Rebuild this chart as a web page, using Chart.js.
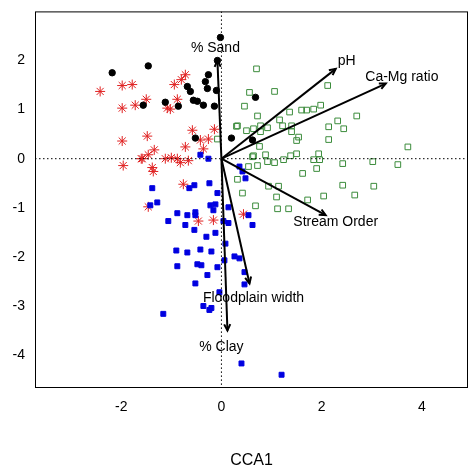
<!DOCTYPE html>
<html><head><meta charset="utf-8">
<script src="https://cdn.jsdelivr.net/npm/chart.js@4"></script>
<style>html,body{margin:0;padding:0;background:#fff}#c{display:block}</style>
</head><body>
<div style="width:474px;height:474px"><canvas id="c" width="474" height="474"></canvas></div>
<script>
const xTicks=[-2,0,2,4];
const yTicks=[-4,-3,-2,-1,0,1,2];
const groupBlack=[[-0.02,2.47],[-0.08,2.0],[-2.18,1.75],[-1.46,1.89],[-0.26,1.71],[-0.32,1.57],[-0.28,1.43],[-0.68,1.47],[-0.62,1.37],[-0.10,1.39],[-0.56,1.19],[-0.48,1.17],[-0.36,1.09],[-0.14,1.07],[-1.12,1.15],[-0.86,1.07],[-1.56,1.09],[-0.52,0.42],[0.2,0.42],[0.68,1.25],[0.62,0.38]];
const groupRed=[[-2.42,1.37],[-1.98,1.49],[-1.78,1.51],[-1.98,1.03],[-1.72,1.09],[-1.5,1.21],[-0.94,1.51],[-0.8,1.61],[-0.72,1.71],[-0.88,1.21],[-1.08,1.03],[-1.02,1.01],[-0.58,0.58],[-0.14,0.60],[-0.26,0.40],[-0.42,0.38],[-0.36,0.20],[-1.98,0.36],[-1.48,0.46],[-1.34,0.18],[-1.46,0.08],[-1.6,0],[-0.72,0.24],[-1.12,0],[-0.88,0],[-0.82,-0.08],[-0.66,-0.04],[-1.96,-0.14],[-1.38,-0.18],[-1.58,0],[-1.36,-0.26],[-1.0,0.02],[-0.76,-0.52],[-1.46,-0.98],[-0.46,-1.27],[-0.16,-1.25],[0.44,-1.13]];
const groupBlue=[[-0.42,0.08],[-0.26,0],[0.36,-0.16],[0.42,-0.26],[0.48,-0.4],[-1.38,-0.6],[-0.64,-0.6],[-0.54,-0.54],[-0.24,-0.5],[-0.08,-0.7],[-1.28,-0.89],[-1.42,-0.95],[-0.22,-0.95],[-0.12,-0.93],[-0.16,-1.05],[0.14,-0.99],[-0.88,-1.11],[-0.68,-1.15],[-0.52,-1.09],[-0.52,-1.15],[-1.06,-1.27],[-0.72,-1.35],[0.04,-1.27],[0.14,-1.31],[0.54,-1.15],[0.62,-1.35],[-0.54,-1.45],[-0.12,-1.51],[-0.3,-1.59],[0.08,-1.73],[-0.9,-1.87],[-0.68,-1.91],[-0.42,-1.85],[-0.2,-1.89],[0.06,-2.07],[0.26,-1.99],[0.36,-2.03],[-0.88,-2.19],[-0.48,-2.15],[-0.4,-2.17],[-0.08,-2.21],[-0.28,-2.37],[0.46,-2.31],[-0.52,-2.54],[0.46,-2.56],[-0.04,-2.72],[-0.36,-3.0],[-0.24,-3.08],[-0.2,-3.04],[-1.16,-3.16],[0.4,-4.17],[1.2,-4.4]];
const groupGreen=[[0.7,1.83],[2.12,1.49],[1.06,1.37],[0.56,1.35],[0.46,1.07],[0.72,0.87],[1.36,0.95],[1.6,0.99],[1.7,0.99],[1.84,1.01],[1.98,1.09],[2.7,0.87],[2.32,0.77],[2.44,0.61],[2.14,0.65],[2.14,0.39],[1.16,0.79],[0.32,0.67],[0.5,0.57],[0.64,0.61],[0.78,0.67],[0.92,0.63],[0.78,0.55],[1.22,0.67],[1.4,0.67],[1.4,0.55],[1.54,0.44],[1.5,0.37],[0.76,0.25],[0.64,0.06],[1.5,0.1],[1.38,0.06],[1.24,-0.02],[1.94,0.1],[1.84,-0.02],[1.96,-0.02],[0.92,-0.06],[1.06,-0.08],[0.72,-0.14],[0.54,-0.16],[3.72,0.24],[3.02,-0.06],[3.52,-0.12],[2.42,-0.1],[1.9,-0.2],[1.62,-0.3],[0.32,-0.42],[0.94,-0.56],[1.14,-0.56],[0.42,-0.7],[2.42,-0.54],[3.04,-0.56],[2.66,-0.74],[2.04,-0.76],[1.72,-0.84],[1.1,-0.78],[1.12,-1.02],[1.34,-1.02],[0.68,-0.96],[0.3,0.66],[-0.08,0.40],[0.62,0.04],[0.88,0.08]];
const arrowNames=["% Sand","pH","Ca-Mg ratio","Stream Order","Floodplain width","% Clay"];
const arrowX=[-0.08,2.28,3.28,2.08,0.56,0.12];
const arrowY=[2.0,1.83,1.53,-1.15,-2.54,-3.5];
const labelX=[-0.12,2.5,3.6,2.28,0.64,0.0];
const labelY=[2.25,1.98,1.66,-1.3,-2.84,-3.84];
const pts=a=>a.map(p=>({x:p[0],y:p[1]}));
const biplot={id:'biplot',afterDatasetsDraw(c){
  const ctx=c.ctx,xs=c.scales.x,ys=c.scales.y,a=c.chartArea;
  ctx.save();
  ctx.beginPath();ctx.rect(a.left,a.top,a.right-a.left,a.bottom-a.top);ctx.clip();
  ctx.setLineDash([1.5,2.5]);ctx.strokeStyle='#000';ctx.lineWidth=1;
  const x0=xs.getPixelForValue(0),y0=ys.getPixelForValue(0);
  ctx.beginPath();ctx.moveTo(x0,a.top);ctx.lineTo(x0,a.bottom);ctx.moveTo(a.left,y0);ctx.lineTo(a.right,y0);ctx.stroke();
  ctx.setLineDash([]);ctx.lineWidth=2;
  for(let i=0;i<arrowX.length;i++){
    const x1=xs.getPixelForValue(arrowX[i]),y1=ys.getPixelForValue(arrowY[i]);
    ctx.beginPath();ctx.moveTo(x0,y0);ctx.lineTo(x1,y1);ctx.stroke();
    const ang=Math.atan2(y1-y0,x1-x0),h=7;
    ctx.beginPath();ctx.moveTo(x1-h*Math.cos(ang-0.45),y1-h*Math.sin(ang-0.45));ctx.lineTo(x1,y1);ctx.lineTo(x1-h*Math.cos(ang+0.45),y1-h*Math.sin(ang+0.45));ctx.stroke();
  }
  ctx.restore();
  ctx.save();ctx.fillStyle='#000';ctx.font='14px "Liberation Sans", Arial';ctx.textAlign='center';ctx.textBaseline='middle';
  for(let i=0;i<arrowNames.length;i++)ctx.fillText(arrowNames[i],xs.getPixelForValue(labelX[i]),ys.getPixelForValue(labelY[i]));
  ctx.strokeStyle='#000';ctx.lineWidth=1;ctx.strokeRect(a.left+0.5,a.top+0.5,a.right-a.left-1,a.bottom-a.top-1);
  ctx.restore();
}};
new Chart(document.getElementById('c'),{type:'scatter',
data:{datasets:[
 {data:pts(groupGreen),pointStyle:'rect',pointRadius:4,borderColor:'#3c8c3c',backgroundColor:'rgba(0,0,0,0)',borderWidth:1},
 {data:pts(groupBlue),pointStyle:'rect',pointRadius:3.5,borderColor:'#0000e0',backgroundColor:'#0000e0',borderWidth:1},
 {data:pts(groupBlack),pointStyle:'circle',pointRadius:3.2,borderColor:'#000',backgroundColor:'#000',borderWidth:1},
 {data:pts(groupRed),pointStyle:'star',pointRadius:5,borderColor:'#e02020',backgroundColor:'#e02020',borderWidth:1}
]},
options:{animation:false,responsive:false,devicePixelRatio:1,
 layout:{padding:{top:3,right:0,left:0,bottom:0}},
 plugins:{legend:{display:false},tooltip:{enabled:false}},
 scales:{
  x:{min:-3.72,max:4.92,afterBuildTicks:s=>{s.ticks=xTicks.map(v=>({value:v}))},afterFit:s=>{s.height=86},
   grid:{display:false,drawTicks:true,tickLength:7,color:'#000'},border:{display:false},
   ticks:{color:'#000',font:{size:14,family:'Liberation Sans'},padding:4},
   title:{display:true,text:'CCA1',color:'#000',font:{size:16,family:'Liberation Sans'},padding:{top:8}}},
  y:{min:-4.67,max:3.0,afterBuildTicks:s=>{s.ticks=yTicks.map(v=>({value:v}))},afterFit:s=>{s.width=35},
   grid:{display:false,tickLength:7,color:'#000'},border:{display:false},
   ticks:{color:'#000',font:{size:14,family:'Liberation Sans'},padding:3}}
 }},
plugins:[biplot]});
</script></body></html>
